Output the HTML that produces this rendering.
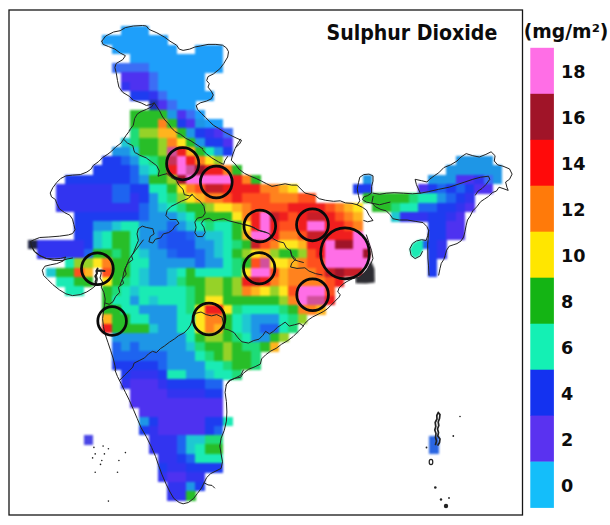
<!DOCTYPE html>
<html><head><meta charset="utf-8"><title>Sulphur Dioxide</title>
<style>
html,body{margin:0;padding:0;background:#fff}
body{width:610px;height:525px;overflow:hidden}
svg{display:block}
text{font-family:"DejaVu Sans","Liberation Sans",sans-serif;font-weight:bold;fill:#0c0c0c}
</style></head><body>
<svg width="610" height="525" viewBox="0 0 610 525">
<defs><filter id="bl" color-interpolation-filters="sRGB" x="-2%" y="-2%" width="104%" height="104%"><feGaussianBlur stdDeviation="0.8"/></filter></defs>
<rect width="610" height="525" fill="#fff"/>
<g filter="url(#bl)" shape-rendering="crispEdges">
<rect x="120.8" y="25.9" width="28.2" height="9.6" fill="#1e9ffa"/><rect x="102.2" y="35.2" width="65.4" height="9.6" fill="#1e9ffa"/><rect x="111.5" y="44.5" width="65.4" height="9.6" fill="#1e9ffa"/><rect x="195.2" y="44.5" width="28.2" height="9.6" fill="#1e9ffa"/><rect x="130.1" y="53.8" width="93.2" height="9.6" fill="#1e9ffa"/><rect x="111.5" y="63.1" width="37.5" height="9.6" fill="#3c6ef5"/><rect x="148.7" y="63.1" width="74.7" height="9.6" fill="#1e9ffa"/><rect x="120.8" y="72.4" width="28.2" height="9.6" fill="#4e32f0"/><rect x="148.7" y="72.4" width="9.6" height="9.6" fill="#3c6ef5"/><rect x="158" y="72.4" width="46.8" height="9.6" fill="#1e9ffa"/><rect x="120.8" y="81.7" width="9.6" height="9.6" fill="#3234f0"/><rect x="130.1" y="81.7" width="18.9" height="9.6" fill="#4e32f0"/><rect x="148.7" y="81.7" width="9.6" height="9.6" fill="#3c6ef5"/><rect x="158" y="81.7" width="46.8" height="9.6" fill="#1e9ffa"/><rect x="130.1" y="91" width="18.9" height="9.6" fill="#1e3cf0"/><rect x="148.7" y="91" width="9.6" height="9.6" fill="#3234f0"/><rect x="158" y="91" width="9.6" height="9.6" fill="#3c6ef5"/><rect x="167.3" y="91" width="46.8" height="9.6" fill="#1e9ffa"/><rect x="148.7" y="100.3" width="9.6" height="9.6" fill="#1e32b4"/><rect x="158" y="100.3" width="9.6" height="9.6" fill="#4e32f0"/><rect x="167.3" y="100.3" width="9.6" height="9.6" fill="#3c6ef5"/><rect x="176.6" y="100.3" width="18.9" height="9.6" fill="#1e9ffa"/><rect x="130.1" y="109.6" width="37.5" height="9.6" fill="#28be28"/><rect x="167.3" y="109.6" width="9.6" height="9.6" fill="#1e96e6"/><rect x="176.6" y="109.6" width="9.6" height="9.6" fill="#4e32f0"/><rect x="185.9" y="109.6" width="9.6" height="9.6" fill="#3c6ef5"/><rect x="195.2" y="109.6" width="9.6" height="9.6" fill="#1e9ffa"/><rect x="130.1" y="118.9" width="28.2" height="9.6" fill="#28be28"/><rect x="158" y="118.9" width="9.6" height="9.6" fill="#ff821e"/><rect x="167.3" y="118.9" width="9.6" height="9.6" fill="#28be28"/><rect x="176.6" y="118.9" width="9.6" height="9.6" fill="#1e3cf0"/><rect x="185.9" y="118.9" width="9.6" height="9.6" fill="#4e32f0"/><rect x="195.2" y="118.9" width="9.6" height="9.6" fill="#1e96e6"/><rect x="204.5" y="118.9" width="18.9" height="9.6" fill="#1e9ffa"/><rect x="130.1" y="128.2" width="9.6" height="9.6" fill="#1edc78"/><rect x="139.4" y="128.2" width="18.9" height="9.6" fill="#96d228"/><rect x="158" y="128.2" width="18.9" height="9.6" fill="#ffb41e"/><rect x="176.6" y="128.2" width="9.6" height="9.6" fill="#28be28"/><rect x="185.9" y="128.2" width="9.6" height="9.6" fill="#1e96e6"/><rect x="195.2" y="128.2" width="9.6" height="9.6" fill="#1e3cf0"/><rect x="204.5" y="128.2" width="9.6" height="9.6" fill="#3234f0"/><rect x="213.8" y="128.2" width="9.6" height="9.6" fill="#4e32f0"/><rect x="223.1" y="128.2" width="9.6" height="9.6" fill="#3c6ef5"/><rect x="120.8" y="137.5" width="9.6" height="9.6" fill="#1ec8d2"/><rect x="130.1" y="137.5" width="9.6" height="9.6" fill="#1edc78"/><rect x="139.4" y="137.5" width="18.9" height="9.6" fill="#28be28"/><rect x="158" y="137.5" width="9.6" height="9.6" fill="#96d228"/><rect x="167.3" y="137.5" width="9.6" height="9.6" fill="#ff821e"/><rect x="176.6" y="137.5" width="9.6" height="9.6" fill="#ffe61e"/><rect x="185.9" y="137.5" width="9.6" height="9.6" fill="#28be28"/><rect x="195.2" y="137.5" width="9.6" height="9.6" fill="#1e96e6"/><rect x="204.5" y="137.5" width="18.9" height="9.6" fill="#1e3cf0"/><rect x="223.1" y="137.5" width="9.6" height="9.6" fill="#4e32f0"/><rect x="111.5" y="146.8" width="18.9" height="9.6" fill="#1e96e6"/><rect x="130.1" y="146.8" width="9.6" height="9.6" fill="#1ec8d2"/><rect x="139.4" y="146.8" width="18.9" height="9.6" fill="#28be28"/><rect x="158" y="146.8" width="9.6" height="9.6" fill="#96d228"/><rect x="167.3" y="146.8" width="9.6" height="9.6" fill="#d2509b"/><rect x="176.6" y="146.8" width="9.6" height="9.6" fill="#f01e1e"/><rect x="185.9" y="146.8" width="9.6" height="9.6" fill="#ffb41e"/><rect x="195.2" y="146.8" width="9.6" height="9.6" fill="#28be28"/><rect x="204.5" y="146.8" width="9.6" height="9.6" fill="#1aebb4"/><rect x="213.8" y="146.8" width="9.6" height="9.6" fill="#1e96e6"/><rect x="223.1" y="146.8" width="9.6" height="9.6" fill="#1e3cf0"/><rect x="102.2" y="156.1" width="18.9" height="9.6" fill="#1e3cf0"/><rect x="120.8" y="156.1" width="9.6" height="9.6" fill="#1e64f0"/><rect x="130.1" y="156.1" width="9.6" height="9.6" fill="#1e96e6"/><rect x="139.4" y="156.1" width="9.6" height="9.6" fill="#1aebb4"/><rect x="148.7" y="156.1" width="9.6" height="9.6" fill="#1edc78"/><rect x="158" y="156.1" width="9.6" height="9.6" fill="#28be28"/><rect x="167.3" y="156.1" width="9.6" height="9.6" fill="#c8325a"/><rect x="176.6" y="156.1" width="9.6" height="9.6" fill="#ff6ee6"/><rect x="185.9" y="156.1" width="9.6" height="9.6" fill="#f01e1e"/><rect x="195.2" y="156.1" width="9.6" height="9.6" fill="#ff821e"/><rect x="204.5" y="156.1" width="9.6" height="9.6" fill="#ffe61e"/><rect x="213.8" y="156.1" width="9.6" height="9.6" fill="#96d228"/><rect x="455.6" y="156.1" width="37.5" height="9.6" fill="#1e96e6"/><rect x="92.9" y="165.4" width="37.5" height="9.6" fill="#1e3cf0"/><rect x="130.1" y="165.4" width="9.6" height="9.6" fill="#1e64f0"/><rect x="139.4" y="165.4" width="9.6" height="9.6" fill="#1ec8d2"/><rect x="148.7" y="165.4" width="9.6" height="9.6" fill="#1aebb4"/><rect x="158" y="165.4" width="9.6" height="9.6" fill="#28be28"/><rect x="167.3" y="165.4" width="9.6" height="9.6" fill="#f01e1e"/><rect x="176.6" y="165.4" width="9.6" height="9.6" fill="#ff6ee6"/><rect x="185.9" y="165.4" width="9.6" height="9.6" fill="#d2509b"/><rect x="195.2" y="165.4" width="9.6" height="9.6" fill="#a01428"/><rect x="204.5" y="165.4" width="18.9" height="9.6" fill="#f01e1e"/><rect x="223.1" y="165.4" width="9.6" height="9.6" fill="#ff821e"/><rect x="232.4" y="165.4" width="9.6" height="9.6" fill="#28be28"/><rect x="446.3" y="165.4" width="56.1" height="9.6" fill="#1e96e6"/><rect x="65" y="174.7" width="65.4" height="9.6" fill="#1e3cf0"/><rect x="130.1" y="174.7" width="9.6" height="9.6" fill="#1e64f0"/><rect x="139.4" y="174.7" width="9.6" height="9.6" fill="#1e96e6"/><rect x="148.7" y="174.7" width="18.9" height="9.6" fill="#28be28"/><rect x="167.3" y="174.7" width="9.6" height="9.6" fill="#96d228"/><rect x="176.6" y="174.7" width="9.6" height="9.6" fill="#a01428"/><rect x="185.9" y="174.7" width="46.8" height="9.6" fill="#ff6ee6"/><rect x="232.4" y="174.7" width="9.6" height="9.6" fill="#f01e1e"/><rect x="241.7" y="174.7" width="9.6" height="9.6" fill="#ff821e"/><rect x="251" y="174.7" width="9.6" height="9.6" fill="#28be28"/><rect x="362.6" y="174.7" width="9.6" height="9.6" fill="#1e96e6"/><rect x="427.7" y="174.7" width="28.2" height="9.6" fill="#1e96e6"/><rect x="455.6" y="174.7" width="18.9" height="9.6" fill="#4e32f0"/><rect x="474.2" y="174.7" width="9.6" height="9.6" fill="#3234f0"/><rect x="483.5" y="174.7" width="9.6" height="9.6" fill="#3c6ef5"/><rect x="492.8" y="174.7" width="9.6" height="9.6" fill="#1e96e6"/><rect x="55.7" y="184" width="56.1" height="9.6" fill="#3234f0"/><rect x="111.5" y="184" width="18.9" height="9.6" fill="#1e64f0"/><rect x="130.1" y="184" width="18.9" height="9.6" fill="#1e3cf0"/><rect x="148.7" y="184" width="18.9" height="9.6" fill="#1aebb4"/><rect x="167.3" y="184" width="9.6" height="9.6" fill="#28be28"/><rect x="176.6" y="184" width="9.6" height="9.6" fill="#ffe61e"/><rect x="185.9" y="184" width="9.6" height="9.6" fill="#ff821e"/><rect x="195.2" y="184" width="9.6" height="9.6" fill="#ff501e"/><rect x="204.5" y="184" width="18.9" height="9.6" fill="#c81e28"/><rect x="223.1" y="184" width="37.5" height="9.6" fill="#f01e1e"/><rect x="260.3" y="184" width="18.9" height="9.6" fill="#ff821e"/><rect x="278.9" y="184" width="9.6" height="9.6" fill="#ffb41e"/><rect x="288.2" y="184" width="9.6" height="9.6" fill="#ffe61e"/><rect x="353.3" y="184" width="18.9" height="9.6" fill="#1e3cf0"/><rect x="418.4" y="184" width="9.6" height="9.6" fill="#4e32f0"/><rect x="427.7" y="184" width="9.6" height="9.6" fill="#1e3cf0"/><rect x="437" y="184" width="9.6" height="9.6" fill="#1e64f0"/><rect x="446.3" y="184" width="9.6" height="9.6" fill="#1e3cf0"/><rect x="455.6" y="184" width="9.6" height="9.6" fill="#1e64f0"/><rect x="464.9" y="184" width="9.6" height="9.6" fill="#1e3cf0"/><rect x="474.2" y="184" width="18.9" height="9.6" fill="#4e32f0"/><rect x="55.7" y="193.3" width="56.1" height="9.6" fill="#3234f0"/><rect x="111.5" y="193.3" width="18.9" height="9.6" fill="#1e64f0"/><rect x="130.1" y="193.3" width="9.6" height="9.6" fill="#3234f0"/><rect x="139.4" y="193.3" width="9.6" height="9.6" fill="#1e3cf0"/><rect x="148.7" y="193.3" width="9.6" height="9.6" fill="#1e96e6"/><rect x="158" y="193.3" width="9.6" height="9.6" fill="#1aebb4"/><rect x="167.3" y="193.3" width="9.6" height="9.6" fill="#1edc78"/><rect x="176.6" y="193.3" width="9.6" height="9.6" fill="#96d228"/><rect x="185.9" y="193.3" width="9.6" height="9.6" fill="#ffe61e"/><rect x="195.2" y="193.3" width="9.6" height="9.6" fill="#ffb41e"/><rect x="204.5" y="193.3" width="18.9" height="9.6" fill="#ff821e"/><rect x="223.1" y="193.3" width="9.6" height="9.6" fill="#ff501e"/><rect x="232.4" y="193.3" width="9.6" height="9.6" fill="#f01e1e"/><rect x="241.7" y="193.3" width="28.2" height="9.6" fill="#ff501e"/><rect x="269.6" y="193.3" width="28.2" height="9.6" fill="#ff821e"/><rect x="297.5" y="193.3" width="18.9" height="9.6" fill="#ff501e"/><rect x="362.6" y="193.3" width="46.8" height="9.6" fill="#28be28"/><rect x="409.1" y="193.3" width="9.6" height="9.6" fill="#1edc78"/><rect x="418.4" y="193.3" width="18.9" height="9.6" fill="#1aebb4"/><rect x="437" y="193.3" width="9.6" height="9.6" fill="#1e96e6"/><rect x="446.3" y="193.3" width="9.6" height="9.6" fill="#1e64f0"/><rect x="455.6" y="193.3" width="9.6" height="9.6" fill="#1e3cf0"/><rect x="464.9" y="193.3" width="9.6" height="9.6" fill="#3234f0"/><rect x="55.7" y="202.6" width="84" height="9.6" fill="#3234f0"/><rect x="139.4" y="202.6" width="9.6" height="9.6" fill="#1e64f0"/><rect x="148.7" y="202.6" width="9.6" height="9.6" fill="#1e96e6"/><rect x="158" y="202.6" width="9.6" height="9.6" fill="#1ec8d2"/><rect x="167.3" y="202.6" width="9.6" height="9.6" fill="#1aebb4"/><rect x="176.6" y="202.6" width="9.6" height="9.6" fill="#1edc78"/><rect x="185.9" y="202.6" width="18.9" height="9.6" fill="#28be28"/><rect x="204.5" y="202.6" width="9.6" height="9.6" fill="#96d228"/><rect x="213.8" y="202.6" width="18.9" height="9.6" fill="#ffe61e"/><rect x="232.4" y="202.6" width="9.6" height="9.6" fill="#ffb41e"/><rect x="241.7" y="202.6" width="9.6" height="9.6" fill="#ff821e"/><rect x="251" y="202.6" width="37.5" height="9.6" fill="#ff501e"/><rect x="288.2" y="202.6" width="37.5" height="9.6" fill="#f01e1e"/><rect x="325.4" y="202.6" width="9.6" height="9.6" fill="#ff501e"/><rect x="334.7" y="202.6" width="9.6" height="9.6" fill="#ff821e"/><rect x="344" y="202.6" width="9.6" height="9.6" fill="#ffb41e"/><rect x="353.3" y="202.6" width="9.6" height="9.6" fill="#ffe61e"/><rect x="371.9" y="202.6" width="18.9" height="9.6" fill="#28be28"/><rect x="390.5" y="202.6" width="9.6" height="9.6" fill="#1edc78"/><rect x="399.8" y="202.6" width="18.9" height="9.6" fill="#1aebb4"/><rect x="418.4" y="202.6" width="18.9" height="9.6" fill="#1e64f0"/><rect x="437" y="202.6" width="18.9" height="9.6" fill="#1e3cf0"/><rect x="455.6" y="202.6" width="9.6" height="9.6" fill="#3234f0"/><rect x="464.9" y="202.6" width="9.6" height="9.6" fill="#4e32f0"/><rect x="74.3" y="211.9" width="65.4" height="9.6" fill="#1e3cf0"/><rect x="139.4" y="211.9" width="9.6" height="9.6" fill="#1e64f0"/><rect x="148.7" y="211.9" width="28.2" height="9.6" fill="#1e96e6"/><rect x="176.6" y="211.9" width="9.6" height="9.6" fill="#1ec8d2"/><rect x="185.9" y="211.9" width="9.6" height="9.6" fill="#1aebb4"/><rect x="195.2" y="211.9" width="37.5" height="9.6" fill="#28be28"/><rect x="232.4" y="211.9" width="9.6" height="9.6" fill="#ffe61e"/><rect x="241.7" y="211.9" width="9.6" height="9.6" fill="#ff821e"/><rect x="251" y="211.9" width="9.6" height="9.6" fill="#f01e1e"/><rect x="260.3" y="211.9" width="9.6" height="9.6" fill="#ff6ee6"/><rect x="269.6" y="211.9" width="9.6" height="9.6" fill="#c81e28"/><rect x="278.9" y="211.9" width="9.6" height="9.6" fill="#f01e1e"/><rect x="288.2" y="211.9" width="9.6" height="9.6" fill="#ff501e"/><rect x="297.5" y="211.9" width="9.6" height="9.6" fill="#f01e1e"/><rect x="306.8" y="211.9" width="18.9" height="9.6" fill="#c81e28"/><rect x="325.4" y="211.9" width="9.6" height="9.6" fill="#f01e1e"/><rect x="334.7" y="211.9" width="9.6" height="9.6" fill="#ff501e"/><rect x="344" y="211.9" width="9.6" height="9.6" fill="#ff821e"/><rect x="353.3" y="211.9" width="9.6" height="9.6" fill="#ffb41e"/><rect x="390.5" y="211.9" width="9.6" height="9.6" fill="#1ec8d2"/><rect x="399.8" y="211.9" width="28.2" height="9.6" fill="#3234f0"/><rect x="427.7" y="211.9" width="18.9" height="9.6" fill="#1e3cf0"/><rect x="446.3" y="211.9" width="9.6" height="9.6" fill="#3234f0"/><rect x="455.6" y="211.9" width="9.6" height="9.6" fill="#4e32f0"/><rect x="74.3" y="221.2" width="18.9" height="9.6" fill="#1e3cf0"/><rect x="92.9" y="221.2" width="18.9" height="9.6" fill="#1e96e6"/><rect x="111.5" y="221.2" width="9.6" height="9.6" fill="#1ec8d2"/><rect x="120.8" y="221.2" width="18.9" height="9.6" fill="#1aebb4"/><rect x="139.4" y="221.2" width="28.2" height="9.6" fill="#1e96e6"/><rect x="167.3" y="221.2" width="9.6" height="9.6" fill="#1e64f0"/><rect x="176.6" y="221.2" width="9.6" height="9.6" fill="#1e96e6"/><rect x="185.9" y="221.2" width="9.6" height="9.6" fill="#1ec8d2"/><rect x="195.2" y="221.2" width="9.6" height="9.6" fill="#1aebb4"/><rect x="204.5" y="221.2" width="9.6" height="9.6" fill="#1edc78"/><rect x="213.8" y="221.2" width="18.9" height="9.6" fill="#1aebb4"/><rect x="232.4" y="221.2" width="9.6" height="9.6" fill="#28be28"/><rect x="241.7" y="221.2" width="9.6" height="9.6" fill="#ffe61e"/><rect x="251" y="221.2" width="9.6" height="9.6" fill="#f01e1e"/><rect x="260.3" y="221.2" width="9.6" height="9.6" fill="#ff6ee6"/><rect x="269.6" y="221.2" width="9.6" height="9.6" fill="#f01e1e"/><rect x="278.9" y="221.2" width="18.9" height="9.6" fill="#ff501e"/><rect x="297.5" y="221.2" width="9.6" height="9.6" fill="#f01e1e"/><rect x="306.8" y="221.2" width="18.9" height="9.6" fill="#ff6ee6"/><rect x="325.4" y="221.2" width="18.9" height="9.6" fill="#f01e1e"/><rect x="344" y="221.2" width="9.6" height="9.6" fill="#ff501e"/><rect x="353.3" y="221.2" width="9.6" height="9.6" fill="#ff821e"/><rect x="427.7" y="221.2" width="18.9" height="9.6" fill="#1e3cf0"/><rect x="446.3" y="221.2" width="18.9" height="9.6" fill="#4e32f0"/><rect x="74.3" y="230.5" width="18.9" height="9.6" fill="#1e3cf0"/><rect x="92.9" y="230.5" width="9.6" height="9.6" fill="#1ec8d2"/><rect x="102.2" y="230.5" width="9.6" height="9.6" fill="#1aebb4"/><rect x="111.5" y="230.5" width="18.9" height="9.6" fill="#28be28"/><rect x="130.1" y="230.5" width="9.6" height="9.6" fill="#1aebb4"/><rect x="139.4" y="230.5" width="18.9" height="9.6" fill="#1e96e6"/><rect x="158" y="230.5" width="9.6" height="9.6" fill="#1e64f0"/><rect x="167.3" y="230.5" width="18.9" height="9.6" fill="#1e50f0"/><rect x="185.9" y="230.5" width="9.6" height="9.6" fill="#1e64f0"/><rect x="195.2" y="230.5" width="9.6" height="9.6" fill="#1e96e6"/><rect x="204.5" y="230.5" width="18.9" height="9.6" fill="#1ec8d2"/><rect x="223.1" y="230.5" width="9.6" height="9.6" fill="#1aebb4"/><rect x="232.4" y="230.5" width="9.6" height="9.6" fill="#28be28"/><rect x="241.7" y="230.5" width="9.6" height="9.6" fill="#ffb41e"/><rect x="251" y="230.5" width="18.9" height="9.6" fill="#ff6ee6"/><rect x="269.6" y="230.5" width="9.6" height="9.6" fill="#f01e1e"/><rect x="278.9" y="230.5" width="18.9" height="9.6" fill="#ff821e"/><rect x="297.5" y="230.5" width="9.6" height="9.6" fill="#ff501e"/><rect x="306.8" y="230.5" width="18.9" height="9.6" fill="#c81e28"/><rect x="325.4" y="230.5" width="28.2" height="9.6" fill="#f01e1e"/><rect x="353.3" y="230.5" width="9.6" height="9.6" fill="#ff6ee6"/><rect x="427.7" y="230.5" width="18.9" height="9.6" fill="#1e3cf0"/><rect x="446.3" y="230.5" width="18.9" height="9.6" fill="#4e32f0"/><rect x="27.8" y="239.8" width="9.6" height="9.6" fill="#1e2340"/><rect x="37.1" y="239.8" width="46.8" height="9.6" fill="#3234f0"/><rect x="83.6" y="239.8" width="9.6" height="9.6" fill="#1e3cf0"/><rect x="92.9" y="239.8" width="9.6" height="9.6" fill="#1ec8d2"/><rect x="102.2" y="239.8" width="9.6" height="9.6" fill="#1aebb4"/><rect x="111.5" y="239.8" width="18.9" height="9.6" fill="#28be28"/><rect x="130.1" y="239.8" width="9.6" height="9.6" fill="#1aebb4"/><rect x="139.4" y="239.8" width="18.9" height="9.6" fill="#1e96e6"/><rect x="158" y="239.8" width="9.6" height="9.6" fill="#1e64f0"/><rect x="167.3" y="239.8" width="28.2" height="9.6" fill="#1e50f0"/><rect x="195.2" y="239.8" width="18.9" height="9.6" fill="#1e96e6"/><rect x="213.8" y="239.8" width="9.6" height="9.6" fill="#1ec8d2"/><rect x="223.1" y="239.8" width="9.6" height="9.6" fill="#1aebb4"/><rect x="232.4" y="239.8" width="9.6" height="9.6" fill="#1edc78"/><rect x="241.7" y="239.8" width="9.6" height="9.6" fill="#28be28"/><rect x="251" y="239.8" width="9.6" height="9.6" fill="#c81e28"/><rect x="260.3" y="239.8" width="9.6" height="9.6" fill="#ff501e"/><rect x="269.6" y="239.8" width="9.6" height="9.6" fill="#ff821e"/><rect x="278.9" y="239.8" width="18.9" height="9.6" fill="#ffe61e"/><rect x="297.5" y="239.8" width="9.6" height="9.6" fill="#ffb41e"/><rect x="306.8" y="239.8" width="18.9" height="9.6" fill="#f01e1e"/><rect x="325.4" y="239.8" width="9.6" height="9.6" fill="#ff6ee6"/><rect x="334.7" y="239.8" width="18.9" height="9.6" fill="#a01428"/><rect x="353.3" y="239.8" width="9.6" height="9.6" fill="#ff6ee6"/><rect x="418.4" y="239.8" width="9.6" height="9.6" fill="#1e64f0"/><rect x="427.7" y="239.8" width="9.6" height="9.6" fill="#1e3cf0"/><rect x="437" y="239.8" width="9.6" height="9.6" fill="#3234f0"/><rect x="37.1" y="249.1" width="46.8" height="9.6" fill="#3234f0"/><rect x="83.6" y="249.1" width="9.6" height="9.6" fill="#1e64f0"/><rect x="92.9" y="249.1" width="18.9" height="9.6" fill="#28be28"/><rect x="111.5" y="249.1" width="9.6" height="9.6" fill="#1edc78"/><rect x="120.8" y="249.1" width="9.6" height="9.6" fill="#28be28"/><rect x="130.1" y="249.1" width="9.6" height="9.6" fill="#1aebb4"/><rect x="139.4" y="249.1" width="9.6" height="9.6" fill="#1ec8d2"/><rect x="148.7" y="249.1" width="18.9" height="9.6" fill="#1e96e6"/><rect x="167.3" y="249.1" width="9.6" height="9.6" fill="#1e64f0"/><rect x="176.6" y="249.1" width="18.9" height="9.6" fill="#1e50f0"/><rect x="195.2" y="249.1" width="9.6" height="9.6" fill="#1e64f0"/><rect x="204.5" y="249.1" width="9.6" height="9.6" fill="#1e96e6"/><rect x="213.8" y="249.1" width="9.6" height="9.6" fill="#1ec8d2"/><rect x="223.1" y="249.1" width="9.6" height="9.6" fill="#1aebb4"/><rect x="232.4" y="249.1" width="9.6" height="9.6" fill="#28be28"/><rect x="241.7" y="249.1" width="9.6" height="9.6" fill="#96d228"/><rect x="251" y="249.1" width="9.6" height="9.6" fill="#ffe61e"/><rect x="260.3" y="249.1" width="9.6" height="9.6" fill="#ffb41e"/><rect x="269.6" y="249.1" width="9.6" height="9.6" fill="#96d228"/><rect x="278.9" y="249.1" width="18.9" height="9.6" fill="#28be28"/><rect x="297.5" y="249.1" width="9.6" height="9.6" fill="#96d228"/><rect x="306.8" y="249.1" width="9.6" height="9.6" fill="#ff501e"/><rect x="316.1" y="249.1" width="9.6" height="9.6" fill="#f01e1e"/><rect x="325.4" y="249.1" width="37.5" height="9.6" fill="#ff6ee6"/><rect x="427.7" y="249.1" width="9.6" height="9.6" fill="#1e3cf0"/><rect x="437" y="249.1" width="9.6" height="9.6" fill="#3234f0"/><rect x="65" y="258.4" width="9.6" height="9.6" fill="#1aebb4"/><rect x="74.3" y="258.4" width="18.9" height="9.6" fill="#96d228"/><rect x="92.9" y="258.4" width="9.6" height="9.6" fill="#ffe61e"/><rect x="102.2" y="258.4" width="9.6" height="9.6" fill="#ff821e"/><rect x="111.5" y="258.4" width="18.9" height="9.6" fill="#28be28"/><rect x="130.1" y="258.4" width="18.9" height="9.6" fill="#1aebb4"/><rect x="148.7" y="258.4" width="46.8" height="9.6" fill="#1e96e6"/><rect x="195.2" y="258.4" width="9.6" height="9.6" fill="#1e64f0"/><rect x="204.5" y="258.4" width="18.9" height="9.6" fill="#1e96e6"/><rect x="223.1" y="258.4" width="9.6" height="9.6" fill="#1aebb4"/><rect x="232.4" y="258.4" width="9.6" height="9.6" fill="#1edc78"/><rect x="241.7" y="258.4" width="9.6" height="9.6" fill="#28be28"/><rect x="251" y="258.4" width="9.6" height="9.6" fill="#ff501e"/><rect x="260.3" y="258.4" width="9.6" height="9.6" fill="#d2509b"/><rect x="269.6" y="258.4" width="18.9" height="9.6" fill="#ffe61e"/><rect x="288.2" y="258.4" width="9.6" height="9.6" fill="#ffb41e"/><rect x="297.5" y="258.4" width="9.6" height="9.6" fill="#ff821e"/><rect x="306.8" y="258.4" width="18.9" height="9.6" fill="#ff501e"/><rect x="325.4" y="258.4" width="37.5" height="9.6" fill="#ff6ee6"/><rect x="427.7" y="258.4" width="9.6" height="9.6" fill="#1e3cf0"/><rect x="46.4" y="267.7" width="9.6" height="9.6" fill="#1ec8d2"/><rect x="55.7" y="267.7" width="18.9" height="9.6" fill="#28be28"/><rect x="74.3" y="267.7" width="9.6" height="9.6" fill="#ff501e"/><rect x="83.6" y="267.7" width="9.6" height="9.6" fill="#ffb41e"/><rect x="102.2" y="267.7" width="9.6" height="9.6" fill="#ff501e"/><rect x="111.5" y="267.7" width="18.9" height="9.6" fill="#28be28"/><rect x="130.1" y="267.7" width="9.6" height="9.6" fill="#1aebb4"/><rect x="139.4" y="267.7" width="9.6" height="9.6" fill="#1ec8d2"/><rect x="148.7" y="267.7" width="18.9" height="9.6" fill="#1e96e6"/><rect x="167.3" y="267.7" width="9.6" height="9.6" fill="#1ec8d2"/><rect x="176.6" y="267.7" width="9.6" height="9.6" fill="#1aebb4"/><rect x="185.9" y="267.7" width="9.6" height="9.6" fill="#28be28"/><rect x="195.2" y="267.7" width="37.5" height="9.6" fill="#1aebb4"/><rect x="232.4" y="267.7" width="9.6" height="9.6" fill="#1edc78"/><rect x="241.7" y="267.7" width="9.6" height="9.6" fill="#ffe61e"/><rect x="251" y="267.7" width="18.9" height="9.6" fill="#ff6ee6"/><rect x="269.6" y="267.7" width="9.6" height="9.6" fill="#ff501e"/><rect x="278.9" y="267.7" width="9.6" height="9.6" fill="#ffb41e"/><rect x="288.2" y="267.7" width="28.2" height="9.6" fill="#ff821e"/><rect x="316.1" y="267.7" width="9.6" height="9.6" fill="#ff501e"/><rect x="325.4" y="267.7" width="9.6" height="9.6" fill="#c81e28"/><rect x="334.7" y="267.7" width="9.6" height="9.6" fill="#a01428"/><rect x="344" y="267.7" width="18.9" height="9.6" fill="#c81e28"/><rect x="427.7" y="267.7" width="9.6" height="9.6" fill="#1e3cf0"/><rect x="55.7" y="277" width="18.9" height="9.6" fill="#1aebb4"/><rect x="74.3" y="277" width="18.9" height="9.6" fill="#28be28"/><rect x="102.2" y="277" width="9.6" height="9.6" fill="#ffe61e"/><rect x="111.5" y="277" width="9.6" height="9.6" fill="#28be28"/><rect x="120.8" y="277" width="9.6" height="9.6" fill="#1edc78"/><rect x="130.1" y="277" width="9.6" height="9.6" fill="#1aebb4"/><rect x="139.4" y="277" width="9.6" height="9.6" fill="#1ec8d2"/><rect x="148.7" y="277" width="18.9" height="9.6" fill="#1e96e6"/><rect x="167.3" y="277" width="9.6" height="9.6" fill="#1ec8d2"/><rect x="176.6" y="277" width="9.6" height="9.6" fill="#1edc78"/><rect x="185.9" y="277" width="18.9" height="9.6" fill="#28be28"/><rect x="204.5" y="277" width="18.9" height="9.6" fill="#96d228"/><rect x="223.1" y="277" width="9.6" height="9.6" fill="#28be28"/><rect x="232.4" y="277" width="9.6" height="9.6" fill="#96d228"/><rect x="241.7" y="277" width="9.6" height="9.6" fill="#f01e1e"/><rect x="251" y="277" width="9.6" height="9.6" fill="#c81e28"/><rect x="260.3" y="277" width="9.6" height="9.6" fill="#f01e1e"/><rect x="269.6" y="277" width="9.6" height="9.6" fill="#ff821e"/><rect x="278.9" y="277" width="9.6" height="9.6" fill="#ffb41e"/><rect x="288.2" y="277" width="37.5" height="9.6" fill="#ff821e"/><rect x="325.4" y="277" width="9.6" height="9.6" fill="#ff501e"/><rect x="334.7" y="277" width="9.6" height="9.6" fill="#f01e1e"/><rect x="65" y="286.3" width="18.9" height="9.6" fill="#1aebb4"/><rect x="102.2" y="286.3" width="9.6" height="9.6" fill="#28be28"/><rect x="111.5" y="286.3" width="9.6" height="9.6" fill="#1edc78"/><rect x="120.8" y="286.3" width="9.6" height="9.6" fill="#1aebb4"/><rect x="130.1" y="286.3" width="9.6" height="9.6" fill="#1ec8d2"/><rect x="139.4" y="286.3" width="46.8" height="9.6" fill="#1aebb4"/><rect x="185.9" y="286.3" width="9.6" height="9.6" fill="#1edc78"/><rect x="195.2" y="286.3" width="9.6" height="9.6" fill="#28be28"/><rect x="204.5" y="286.3" width="18.9" height="9.6" fill="#96d228"/><rect x="223.1" y="286.3" width="9.6" height="9.6" fill="#28be28"/><rect x="232.4" y="286.3" width="9.6" height="9.6" fill="#96d228"/><rect x="241.7" y="286.3" width="9.6" height="9.6" fill="#ff821e"/><rect x="251" y="286.3" width="9.6" height="9.6" fill="#ffb41e"/><rect x="260.3" y="286.3" width="9.6" height="9.6" fill="#ffe61e"/><rect x="269.6" y="286.3" width="9.6" height="9.6" fill="#96d228"/><rect x="278.9" y="286.3" width="9.6" height="9.6" fill="#ffe61e"/><rect x="288.2" y="286.3" width="9.6" height="9.6" fill="#ff501e"/><rect x="297.5" y="286.3" width="28.2" height="9.6" fill="#ff6ee6"/><rect x="325.4" y="286.3" width="9.6" height="9.6" fill="#ff501e"/><rect x="102.2" y="295.6" width="9.6" height="9.6" fill="#28be28"/><rect x="111.5" y="295.6" width="18.9" height="9.6" fill="#1aebb4"/><rect x="130.1" y="295.6" width="9.6" height="9.6" fill="#1e96e6"/><rect x="139.4" y="295.6" width="9.6" height="9.6" fill="#1aebb4"/><rect x="148.7" y="295.6" width="9.6" height="9.6" fill="#1ec8d2"/><rect x="158" y="295.6" width="28.2" height="9.6" fill="#1aebb4"/><rect x="185.9" y="295.6" width="9.6" height="9.6" fill="#1edc78"/><rect x="195.2" y="295.6" width="9.6" height="9.6" fill="#28be28"/><rect x="204.5" y="295.6" width="18.9" height="9.6" fill="#ffe61e"/><rect x="223.1" y="295.6" width="56.1" height="9.6" fill="#28be28"/><rect x="278.9" y="295.6" width="9.6" height="9.6" fill="#96d228"/><rect x="288.2" y="295.6" width="9.6" height="9.6" fill="#ff821e"/><rect x="297.5" y="295.6" width="9.6" height="9.6" fill="#ff6ee6"/><rect x="306.8" y="295.6" width="18.9" height="9.6" fill="#d2509b"/><rect x="325.4" y="295.6" width="9.6" height="9.6" fill="#f01e1e"/><rect x="102.2" y="304.9" width="18.9" height="9.6" fill="#28be28"/><rect x="120.8" y="304.9" width="18.9" height="9.6" fill="#1aebb4"/><rect x="139.4" y="304.9" width="37.5" height="9.6" fill="#1e96e6"/><rect x="176.6" y="304.9" width="9.6" height="9.6" fill="#1aebb4"/><rect x="185.9" y="304.9" width="9.6" height="9.6" fill="#1edc78"/><rect x="195.2" y="304.9" width="9.6" height="9.6" fill="#ffe61e"/><rect x="204.5" y="304.9" width="18.9" height="9.6" fill="#f01e1e"/><rect x="223.1" y="304.9" width="9.6" height="9.6" fill="#ffe61e"/><rect x="232.4" y="304.9" width="9.6" height="9.6" fill="#1edc78"/><rect x="241.7" y="304.9" width="37.5" height="9.6" fill="#1aebb4"/><rect x="278.9" y="304.9" width="9.6" height="9.6" fill="#1edc78"/><rect x="288.2" y="304.9" width="9.6" height="9.6" fill="#28be28"/><rect x="297.5" y="304.9" width="18.9" height="9.6" fill="#ff821e"/><rect x="316.1" y="304.9" width="9.6" height="9.6" fill="#ffb41e"/><rect x="102.2" y="314.2" width="9.6" height="9.6" fill="#ffb41e"/><rect x="111.5" y="314.2" width="18.9" height="9.6" fill="#28be28"/><rect x="130.1" y="314.2" width="18.9" height="9.6" fill="#1aebb4"/><rect x="148.7" y="314.2" width="28.2" height="9.6" fill="#1e96e6"/><rect x="176.6" y="314.2" width="18.9" height="9.6" fill="#1aebb4"/><rect x="195.2" y="314.2" width="9.6" height="9.6" fill="#ffe61e"/><rect x="204.5" y="314.2" width="18.9" height="9.6" fill="#ff821e"/><rect x="223.1" y="314.2" width="9.6" height="9.6" fill="#28be28"/><rect x="232.4" y="314.2" width="9.6" height="9.6" fill="#1aebb4"/><rect x="241.7" y="314.2" width="9.6" height="9.6" fill="#1ec8d2"/><rect x="251" y="314.2" width="28.2" height="9.6" fill="#1e96e6"/><rect x="278.9" y="314.2" width="9.6" height="9.6" fill="#1aebb4"/><rect x="288.2" y="314.2" width="9.6" height="9.6" fill="#1edc78"/><rect x="297.5" y="314.2" width="9.6" height="9.6" fill="#96d228"/><rect x="102.2" y="323.5" width="9.6" height="9.6" fill="#f01e1e"/><rect x="111.5" y="323.5" width="37.5" height="9.6" fill="#28be28"/><rect x="148.7" y="323.5" width="9.6" height="9.6" fill="#1ec8d2"/><rect x="158" y="323.5" width="18.9" height="9.6" fill="#1e96e6"/><rect x="176.6" y="323.5" width="18.9" height="9.6" fill="#1aebb4"/><rect x="195.2" y="323.5" width="9.6" height="9.6" fill="#ffe61e"/><rect x="204.5" y="323.5" width="9.6" height="9.6" fill="#ff821e"/><rect x="213.8" y="323.5" width="9.6" height="9.6" fill="#ffb41e"/><rect x="223.1" y="323.5" width="9.6" height="9.6" fill="#28be28"/><rect x="232.4" y="323.5" width="9.6" height="9.6" fill="#1aebb4"/><rect x="241.7" y="323.5" width="9.6" height="9.6" fill="#1ec8d2"/><rect x="251" y="323.5" width="9.6" height="9.6" fill="#1e96e6"/><rect x="260.3" y="323.5" width="18.9" height="9.6" fill="#1e64f0"/><rect x="278.9" y="323.5" width="9.6" height="9.6" fill="#1aebb4"/><rect x="288.2" y="323.5" width="9.6" height="9.6" fill="#1edc78"/><rect x="111.5" y="332.8" width="74.7" height="9.6" fill="#1e96e6"/><rect x="185.9" y="332.8" width="9.6" height="9.6" fill="#1aebb4"/><rect x="195.2" y="332.8" width="9.6" height="9.6" fill="#28be28"/><rect x="204.5" y="332.8" width="18.9" height="9.6" fill="#96d228"/><rect x="223.1" y="332.8" width="9.6" height="9.6" fill="#28be28"/><rect x="232.4" y="332.8" width="9.6" height="9.6" fill="#1edc78"/><rect x="241.7" y="332.8" width="9.6" height="9.6" fill="#1aebb4"/><rect x="251" y="332.8" width="18.9" height="9.6" fill="#1e96e6"/><rect x="269.6" y="332.8" width="9.6" height="9.6" fill="#28be28"/><rect x="278.9" y="332.8" width="9.6" height="9.6" fill="#96d228"/><rect x="111.5" y="342.1" width="9.6" height="9.6" fill="#1e64f0"/><rect x="120.8" y="342.1" width="9.6" height="9.6" fill="#1e96e6"/><rect x="130.1" y="342.1" width="9.6" height="9.6" fill="#1e64f0"/><rect x="139.4" y="342.1" width="46.8" height="9.6" fill="#1e96e6"/><rect x="185.9" y="342.1" width="9.6" height="9.6" fill="#1ec8d2"/><rect x="195.2" y="342.1" width="9.6" height="9.6" fill="#1edc78"/><rect x="204.5" y="342.1" width="18.9" height="9.6" fill="#28be28"/><rect x="223.1" y="342.1" width="9.6" height="9.6" fill="#96d228"/><rect x="232.4" y="342.1" width="9.6" height="9.6" fill="#28be28"/><rect x="241.7" y="342.1" width="18.9" height="9.6" fill="#1edc78"/><rect x="260.3" y="342.1" width="9.6" height="9.6" fill="#28be28"/><rect x="269.6" y="342.1" width="9.6" height="9.6" fill="#ffb41e"/><rect x="111.5" y="351.4" width="56.1" height="9.6" fill="#1e64f0"/><rect x="167.3" y="351.4" width="28.2" height="9.6" fill="#1e96e6"/><rect x="195.2" y="351.4" width="9.6" height="9.6" fill="#1aebb4"/><rect x="204.5" y="351.4" width="9.6" height="9.6" fill="#1edc78"/><rect x="213.8" y="351.4" width="9.6" height="9.6" fill="#28be28"/><rect x="223.1" y="351.4" width="9.6" height="9.6" fill="#96d228"/><rect x="232.4" y="351.4" width="18.9" height="9.6" fill="#28be28"/><rect x="251" y="351.4" width="9.6" height="9.6" fill="#1edc78"/><rect x="111.5" y="360.7" width="46.8" height="9.6" fill="#1e3cf0"/><rect x="158" y="360.7" width="9.6" height="9.6" fill="#1e64f0"/><rect x="167.3" y="360.7" width="37.5" height="9.6" fill="#1e96e6"/><rect x="204.5" y="360.7" width="18.9" height="9.6" fill="#1aebb4"/><rect x="223.1" y="360.7" width="9.6" height="9.6" fill="#1edc78"/><rect x="232.4" y="360.7" width="18.9" height="9.6" fill="#28be28"/><rect x="251" y="360.7" width="9.6" height="9.6" fill="#1edc78"/><rect x="120.8" y="370" width="9.6" height="9.6" fill="#1e3cf0"/><rect x="130.1" y="370" width="28.2" height="9.6" fill="#3234f0"/><rect x="158" y="370" width="9.6" height="9.6" fill="#1e3cf0"/><rect x="167.3" y="370" width="18.9" height="9.6" fill="#1aebb4"/><rect x="185.9" y="370" width="18.9" height="9.6" fill="#1e96e6"/><rect x="204.5" y="370" width="9.6" height="9.6" fill="#1ec8d2"/><rect x="213.8" y="370" width="18.9" height="9.6" fill="#1aebb4"/><rect x="232.4" y="370" width="9.6" height="9.6" fill="#1edc78"/><rect x="120.8" y="379.3" width="9.6" height="9.6" fill="#3234f0"/><rect x="130.1" y="379.3" width="28.2" height="9.6" fill="#4e32f0"/><rect x="158" y="379.3" width="9.6" height="9.6" fill="#3234f0"/><rect x="167.3" y="379.3" width="37.5" height="9.6" fill="#1e3cf0"/><rect x="204.5" y="379.3" width="18.9" height="9.6" fill="#1e64f0"/><rect x="130.1" y="388.6" width="37.5" height="9.6" fill="#4e32f0"/><rect x="167.3" y="388.6" width="37.5" height="9.6" fill="#3234f0"/><rect x="204.5" y="388.6" width="18.9" height="9.6" fill="#1e3cf0"/><rect x="130.1" y="397.9" width="93.2" height="9.6" fill="#4e32f0"/><rect x="139.4" y="407.2" width="84" height="9.6" fill="#4e32f0"/><rect x="139.4" y="416.5" width="9.6" height="9.6" fill="#1e96e6"/><rect x="148.7" y="416.5" width="9.6" height="9.6" fill="#1e3cf0"/><rect x="158" y="416.5" width="46.8" height="9.6" fill="#4e32f0"/><rect x="204.5" y="416.5" width="18.9" height="9.6" fill="#1e3cf0"/><rect x="223.1" y="416.5" width="9.6" height="9.6" fill="#1aebb4"/><rect x="139.4" y="425.8" width="9.6" height="9.6" fill="#1e3cf0"/><rect x="148.7" y="425.8" width="9.6" height="9.6" fill="#3234f0"/><rect x="158" y="425.8" width="46.8" height="9.6" fill="#4e32f0"/><rect x="204.5" y="425.8" width="9.6" height="9.6" fill="#1e3cf0"/><rect x="213.8" y="425.8" width="9.6" height="9.6" fill="#1e64f0"/><rect x="83.6" y="435.1" width="9.6" height="9.6" fill="#4a46e6"/><rect x="148.7" y="435.1" width="28.2" height="9.6" fill="#3234f0"/><rect x="176.6" y="435.1" width="9.6" height="9.6" fill="#1e64f0"/><rect x="185.9" y="435.1" width="18.9" height="9.6" fill="#1ec8d2"/><rect x="204.5" y="435.1" width="18.9" height="9.6" fill="#1edc78"/><rect x="148.7" y="444.4" width="28.2" height="9.6" fill="#3234f0"/><rect x="176.6" y="444.4" width="9.6" height="9.6" fill="#1e64f0"/><rect x="185.9" y="444.4" width="9.6" height="9.6" fill="#1ec8d2"/><rect x="195.2" y="444.4" width="9.6" height="9.6" fill="#1aebb4"/><rect x="204.5" y="444.4" width="18.9" height="9.6" fill="#28be28"/><rect x="158" y="453.7" width="18.9" height="9.6" fill="#3234f0"/><rect x="176.6" y="453.7" width="9.6" height="9.6" fill="#1e3cf0"/><rect x="185.9" y="453.7" width="9.6" height="9.6" fill="#1e64f0"/><rect x="195.2" y="453.7" width="28.2" height="9.6" fill="#1aebb4"/><rect x="158" y="463" width="9.6" height="9.6" fill="#1e3cf0"/><rect x="167.3" y="463" width="18.9" height="9.6" fill="#3234f0"/><rect x="185.9" y="463" width="37.5" height="9.6" fill="#1e3cf0"/><rect x="158" y="472.3" width="9.6" height="9.6" fill="#3234f0"/><rect x="167.3" y="472.3" width="18.9" height="9.6" fill="#4e32f0"/><rect x="185.9" y="472.3" width="18.9" height="9.6" fill="#3234f0"/><rect x="167.3" y="481.6" width="18.9" height="9.6" fill="#3234f0"/><rect x="185.9" y="481.6" width="9.6" height="9.6" fill="#1e96e6"/><rect x="195.2" y="481.6" width="9.6" height="9.6" fill="#1e3cf0"/><rect x="167.3" y="490.9" width="18.9" height="9.6" fill="#3234f0"/><rect x="185.9" y="490.9" width="9.6" height="9.6" fill="#28be28"/>
<g clip-path="url(#cp36)"><rect x="362.6" y="230.5" width="9.6" height="9.6" fill="#ff6ee6"/><rect x="362.6" y="239.8" width="9.6" height="9.6" fill="#ff6ee6"/><rect x="362.6" y="249.1" width="9.6" height="9.6" fill="#a01428"/><rect x="362.6" y="258.4" width="9.6" height="9.6" fill="#ff6ee6"/></g>
<path d="M423.0 240.5 L421.6 239.7 L416.4 241.0 L412.5 243.6 L409.8 248.9 L411.1 255.4 L415.1 258.6 L420.3 255.9 L422.4 251.5 L423.2 246.2Z" fill="#1aebb4"/>
<rect x="429.3" y="435.6" width="9.4" height="18.6" fill="#2a66e2"/>
</g>
<clipPath id="cp36"><ellipse cx="345" cy="253.4" rx="25.6" ry="26.7"/></clipPath><clipPath id="cpn"><path clip-rule="evenodd" d="M340 250H390V300H340Z M371.5 253.4a26.5 27.5 0 1 0 -53 0a26.5 27.5 0 1 0 53 0Z"/></clipPath><g clip-path="url(#cpn)"><path d="M355.5 283.2 L355.5 272 L368 262 L372 263 L374.5 269 L374.8 282.5 L366 283.6Z" fill="#2c2c32" filter="url(#bl)"/></g>
<g fill="none" stroke="#222" stroke-width="1" stroke-linejoin="round" stroke-linecap="round">
<path d="M101.8 41.2 L105.7 36.0 L113.6 32.0 L120.2 30.7 L125.4 27.6 L133.3 26.0 L142.5 25.5 L146.4 26.0 L149.0 29.4 L156.9 32.8 L164.8 37.3 L170.0 41.2 L176.6 45.2 L179.2 49.1 L183.1 50.4 L189.7 49.1 L194.9 47.0 L200.2 46.0 L208.0 44.4 L215.9 44.4 L222.5 45.2 L226.4 47.8 L228.5 51.7 L227.7 57.0 L223.8 63.5 L219.8 68.8 L213.3 74.0 L208.0 76.6 L206.7 80.6 L209.3 83.7 L208.0 87.1 L211.2 91.1 L213.3 95.0 L211.2 98.9 L206.7 101.0 L200.2 102.9 L196.2 105.5 L197.5 109.4 L201.5 113.4 L205.4 117.3 L209.3 121.2 L213.3 125.2 L218.5 128.3 L223.8 131.7 L230.3 135.1 L236.9 138.3 L241.6 140.4 L239.5 144.0 L235.6 147.5"/>
<path d="M101.8 41.2 L103.1 44.4 L108.4 46.5 L114.9 49.1 L120.2 53.0 L125.4 55.7 L122.8 59.6 L116.2 63.5 L114.9 67.5 L116.2 72.7 L117.5 80.6 L118.9 87.1 L122.8 92.4 L129.3 96.3 L133.3 100.2 L141.1 102.9 L146.4 105.5 L151.6 104.2 L154.3 102.9 L151.6 106.8 L146.4 109.4 L141.1 111.5 L137.2 114.1 L134.6 118.6 L133.3 125.2 L129.3 130.4"/>
<path d="M154.3 102.9 L156.9 106.8 L159.5 110.7 L162.1 116.0 L164.8 119.9 L168.7 123.9 L171.3 127.8 L175.2 131.7 L180.5 134.3 L185.7 138.3 L191.0 140.9 L194.9 143.5 L198.9 146.1 L202.8 148.8"/>
<path d="M130.2 130.0 L126.2 135.2 L123.6 139.2 L121.0 143.1 L115.7 147.0 L111.8 151.0 L107.9 154.1 L102.6 157.5 L98.7 161.5 L93.4 165.4 L90.8 169.3 L86.9 172.0 L80.3 174.6 L72.5 175.1 L65.9 175.9 L60.7 178.5 L56.7 182.5 L52.8 187.7 L50.2 193.0 L51.5 196.9 L55.4 199.5 L56.7 203.4 L59.3 208.7 L64.6 212.6 L69.8 215.2 L72.5 219.2 L73.8 224.4 L75.1 229.7 L72.5 233.6 L68.5 234.9 L59.3 236.2 L48.9 237.0 L39.7 237.5 L34.4 239.6 L30.5 241.5 L31.8 246.7 L34.4 251.2 L39.7 255.4 L46.2 258.5 L54.1 260.4 L62.0 260.6 L67.2 259.0 L72.5 258.0"/>
<path d="M123.6 139.2 L127.5 143.1 L132.8 145.7 L134.1 151.0 L135.4 153.1"/>
<path d="M31.8 246.6 L34.4 251.8 L39.7 255.7 L46.2 258.4 L54.1 258.9 L60.7 258.4 L65.9 257.0 L63.3 261.0 L56.7 263.6 L50.2 264.9 L44.9 266.2 L42.3 270.2 L43.6 275.4 L47.5 279.3 L52.8 284.6 L59.3 289.8 L65.9 293.8 L72.5 295.6 L80.3 294.6 L86.9 291.9 L92.1 288.5 L96.1 285.1 L97.4 279.3 L96.1 274.1 L98.7 270.2 L101.3 272.8 L100.0 278.0 L102.6 282.0 L101.3 287.2 L103.9 292.5 L105.2 299.0 L104.5 305.6 L103.4 312.1 L102.6 318.7 L103.4 326.6 L105.2 334.4 L107.9 342.3 L110.5 350.2 L113.1 358.0 L115.0 365.9 L115.7 370.4"/>
<path d="M143.3 240.0 L139.3 245.2 L135.4 250.5 L131.5 255.7 L132.8 259.7 L127.5 263.6 L124.9 268.9 L126.2 274.1 L122.3 279.3 L123.6 283.3 L118.4 287.2 L119.7 292.5 L115.7 296.4 L113.1 301.6 L109.2 304.3 L105.2 303.0"/>
<path d="M114.9 370.0 L117.5 376.6 L121.5 384.4 L125.4 392.3 L129.3 400.2 L133.3 409.3 L137.2 418.5 L141.1 427.7 L146.4 436.9 L151.6 447.4 L155.6 456.6 L158.7 465.7 L162.1 474.9 L166.1 484.1 L170.0 492.0 L173.9 498.5 L179.2 502.5 L183.1 503.8 L188.4 502.5 L193.6 498.5 L197.5 493.3 L201.5 488.0 L204.1 482.8 L206.7 477.5 L210.7 473.6 L215.9 471.0 L221.1 468.4 L222.5 461.8 L221.1 453.9 L219.8 446.1 L221.1 438.2 L224.3 430.3 L226.4 421.1 L226.9 412.0 L226.4 401.5 L225.1 392.3 L226.4 384.4 L230.3 380.5 L235.6 377.9 L240.8 375.2 L243.4 370.0"/>
<path d="M204.1 482.8 L208.0 484.9 L212.0 485.4 L214.6 488.0"/>
<path d="M226.2 385.1 L228.9 380.6 L234.1 378.5 L240.7 377.2 L243.3 373.3 L248.5 369.3 L255.1 366.7 L260.3 364.1 L261.6 358.9 L265.6 354.9 L270.8 351.0 L276.1 348.4 L281.3 344.4 L287.9 340.5 L293.1 336.6 L298.4 331.3 L302.3 327.4 L304.9 323.4 L308.9 319.5 L312.8 316.9 L318.0 314.3 L323.3 311.6 L327.2 309.0 L331.1 305.1 L335.1 301.1 L339.0 297.2 L340.3 294.6 L337.7 292.0 L339.0 288.0 L343.0 284.1 L346.9 281.5 L352.1 278.9 L357.4 277.5"/>
<path d="M223.6 328.7 L228.9 330.0 L234.1 332.6 L238.0 337.9 L242.0 341.8 L248.5 343.1 L253.8 340.5 L259.0 339.2 L263.0 335.2 L265.6 331.3 L269.5 333.9 L273.4 331.3 L277.4 327.4 L281.3 324.8 L285.2 322.1 L289.2 326.1 L294.4 324.8 L299.7 323.4 L303.6 326.1"/>
<path d="M290.5 250.0 L291.8 255.2 L295.7 259.2 L291.8 263.1 L290.5 267.0 L297.0 268.4 L304.9 267.8 L308.9 271.0 L315.4 273.6 L322.0 274.9"/>
<path d="M240.5 139.2 L237.9 143.1 L235.2 148.4 L232.6 154.9 L231.3 160.2 L235.2 164.1 L239.2 169.3 L244.4 173.3 L249.7 175.9 L256.2 178.5 L261.5 181.1 L266.7 183.8 L272.0 186.4 L278.5 185.1 L285.1 183.8 L291.6 185.1 L296.9 185.1 L300.8 189.0 L304.8 193.0 L310.0 194.3 L315.2 195.6 L319.2 198.7 L325.7 200.3 L333.6 201.3 L340.2 200.8 L345.4 202.9 L352.0 203.4 L357.2 204.8 L359.8 200.8 L358.5 195.6 L357.2 189.0 L358.5 182.5 L359.8 177.2 L363.8 174.6 L369.0 174.1 L373.0 175.9 L373.0 181.1 L371.6 186.4 L371.6 193.0 L367.7 195.6 L363.8 196.9 L362.5 199.5 L366.4 202.1 L373.0 203.4 L379.5 204.8 L384.8 203.4 L390.0 202.1"/>
<path d="M357.2 204.8 L362.5 207.4 L366.4 210.0 L369.0 215.2 L373.0 220.5 L367.7 221.8 L363.8 220.5"/>
<path d="M366.4 234.9 L369.0 242.8 L371.6 250.7 L373.0 258.5 L370.3 265.1"/>
<path d="M244.4 224.4 L249.7 225.7 L254.9 228.4 L260.2 231.0 L265.4 232.3 L269.3 233.6 L273.3 238.9 L278.5 241.5 L283.8 242.8 L286.4 248.0 L290.3 250.7 L291.6 255.9 L294.3 259.8 L298.2 261.1 L303.4 262.5"/>
<path d="M373.1 193.2 L379.7 194.3 L386.2 193.2 L394.1 192.7 L403.3 193.2 L412.5 193.8 L420.3 193.2 L416.4 184.6 L415.1 179.3 L421.6 180.7 L426.9 182.0 L429.5 179.3 L434.8 175.4 L438.7 172.8 L443.9 167.5 L450.5 164.9 L457.0 161.0 L461.0 157.0 L466.2 153.6 L472.8 155.7 L479.3 157.0 L485.9 154.4 L491.1 151.8 L495.1 155.7 L494.3 161.0 L497.7 164.9 L503.0 166.2 L509.5 168.9 L512.1 174.1 L509.5 179.3 L505.6 182.0 L506.9 187.2 L508.2 190.4 L503.0 188.5 L499.0 187.2 L496.4 191.1 L492.5 192.5 L488.5 196.4 L484.6 199.0 L480.7 201.6 L476.7 206.9 L472.8 210.8 L470.2 216.1 L467.5 220.0 L466.2 225.2 L464.9 231.8 L463.6 237.0 L461.0 241.0 L457.0 243.6 L453.1 244.9 L449.2 246.2 L446.6 250.2 L445.2 255.4 L443.9 259.3 L441.3 263.3 L440.0 268.5 L438.7 275.1"/>
<path d="M420.3 193.2 L428.2 191.7 L438.7 189.3 L449.2 187.2 L457.0 184.6 L464.9 182.0 L472.8 179.3 L480.7 177.2 L488.5 176.2 L489.8 179.3 L485.9 184.6 L482.0 188.5 L478.0 191.1 L475.4 195.1"/>
<path d="M373.1 196.4 L371.8 203.0 L375.7 206.9 L381.0 209.5 L386.2 210.8 L390.2 214.8 L392.8 218.7 L399.3 220.0 L407.2 220.0 L415.1 221.3 L423.0 222.6 L426.9 226.6 L428.7 230.5 L427.7 235.7 L426.1 240.5 L421.6 239.7 L416.4 241.0 L412.5 243.6 L409.8 248.9 L411.1 255.4 L415.1 258.6 L420.3 255.9 L422.4 251.5"/>
<path d="M428.7 230.5 L427.7 244.9 L427.9 258.0 L428.5 265.9 L429.0 275.1"/>
<path d="M136.3 153.1 L139.7 155.2 L146.2 157.9 L151.5 161.8 L156.7 165.7 L159.3 171.0 L158.0 176.2 L162.0 174.9 L167.2 173.6 L171.1 177.5 L176.4 180.2 L179.0 185.4 L183.0 189.3 L184.3 194.6 L189.5 195.9 L192.1 194.6"/>
<path d="M192.1 194.6 L188.2 198.5 L181.6 201.1 L176.4 203.8 L171.1 206.4 L167.2 210.3 L165.9 215.6 L169.8 219.5 L176.4 219.5 L179.0 223.4 L175.1 226.1 L172.5 230.0 L168.5 232.6 L163.3 233.9 L160.7 237.9 L155.4 239.2 L152.8 243.1 L148.9 241.8 L150.2 236.6 L154.1 233.9 L152.8 228.7 L146.2 227.4 L142.3 226.1 L138.4 228.7 L137.0 233.9 L138.4 240.5 L135.7 247.0 L133.1 253.6 L129.2 258.9 L126.6 265.4 L123.9 272.0 L122.6 278.5 L120.0 285.1"/>
<path d="M192.1 194.6 L196.1 198.5 L200.0 201.1 L203.9 206.4 L205.2 213.0 L202.6 216.9 L197.4 218.2 L194.8 222.1 L196.1 227.4 L194.8 232.6 L197.4 236.6 L202.6 236.6 L205.2 232.6 L203.9 227.4 L201.3 223.4 L203.9 219.5 L209.2 218.2 L213.1 220.8 L218.4 219.5 L223.6 218.7 L228.9 220.8 L234.1 222.1 L239.3 223.4 L244.6 224.8 L249.8 226.1 L253.8 227.4 L257.7 230.0 L263.0 231.3 L266.9 232.6"/>
<path d="M202.6 150.0 L206.6 153.9 L211.8 157.9 L218.4 161.8 L223.6 164.4 L224.9 160.5 L227.5 156.6"/>
<path d="M119.7 380.2 L124.9 374.9 L128.9 371.0 L132.8 367.0 L134.1 363.1 L139.3 360.5 L144.6 357.9 L148.5 353.9 L152.5 351.3 L156.4 352.6 L160.3 348.7 L164.3 346.1 L169.5 342.1 L174.8 338.7 L178.7 335.6 L183.9 333.0 L187.9 329.0 L190.5 325.1 L191.8 321.1 L193.1 317.2 L195.7 313.3 L201.0 312.0 L206.2 314.6 L211.5 315.9 L216.7 314.6 L222.0 317.2 L223.3 322.5 L224.6 327.7"/><circle cx="93.9" cy="447.4" r="0.8" fill="#222" stroke="none"/><circle cx="103.1" cy="446.1" r="0.8" fill="#222" stroke="none"/><circle cx="108.4" cy="448.7" r="0.8" fill="#222" stroke="none"/><circle cx="95.2" cy="453.9" r="0.8" fill="#222" stroke="none"/><circle cx="92.6" cy="457.9" r="0.8" fill="#222" stroke="none"/><circle cx="101.8" cy="460.5" r="0.8" fill="#222" stroke="none"/><circle cx="104.4" cy="453.9" r="0.8" fill="#222" stroke="none"/><circle cx="125.4" cy="452.6" r="0.8" fill="#222" stroke="none"/><circle cx="118.9" cy="460.5" r="0.8" fill="#222" stroke="none"/><circle cx="95.2" cy="472.3" r="0.8" fill="#222" stroke="none"/><circle cx="117.5" cy="472.3" r="0.8" fill="#222" stroke="none"/><circle cx="108.4" cy="501.1" r="0.8" fill="#222" stroke="none"/><circle cx="100.5" cy="464.4" r="0.8" fill="#222" stroke="none"/><path d="M97.6 268.6 L96.3 271 L97 273.5 L95.2 276.2 L96.4 279 L95.4 282 L96.2 284.5 M97.4 270.8 L101 270.5 L104.6 271" stroke-width="1.9"/>
<path d="M438.3 412.5 L440 414.5 L439.5 418.5 L438.2 422 L438.8 425.5 L437.5 429 L438.5 432.5 L437.8 436 L440 439 L439.5 442.5 L438 445 M438.3 412.5 L436.8 415.5 L437 419 L435.2 422.5 L435.8 426.5 L434.8 430 L436 433.5 L435.5 437.5 L436.5 441 L435.5 444.5" stroke-width="1.7"/>
<ellipse cx="431" cy="462" rx="1.8" ry="2.6" stroke-width="1.2"/>
<g fill="#222" stroke="none"><circle cx="435.3" cy="487.5" r="1.3"/><circle cx="441" cy="499.5" r="1.2"/><circle cx="446" cy="506" r="2.2"/><circle cx="449" cy="498" r="0.9"/><circle cx="460" cy="416.5" r="0.8"/><circle cx="453.3" cy="436" r="0.9"/><circle cx="426.5" cy="447.5" r="0.9"/></g>
</g>
<g fill="none" stroke="#0a0a0a" stroke-width="2.75"><circle cx="182.7" cy="163.7" r="16.1"/><circle cx="216.3" cy="182.0" r="15.9"/><circle cx="259.8" cy="226" r="15.85"/><circle cx="312.5" cy="224.8" r="15.95"/><ellipse cx="345" cy="253.4" rx="24.35" ry="25.45"/><circle cx="259.2" cy="268.2" r="15.7"/><circle cx="312.6" cy="294.8" r="15.85"/><circle cx="97.4" cy="268.7" r="15.9"/><circle cx="112.1" cy="321.0" r="14.3"/><circle cx="209.0" cy="319.0" r="15.9"/></g>
<rect x="9" y="10" width="513.5" height="505" fill="none" stroke="#161616" stroke-width="1.3"/>
<g><rect x="530.3" y="47.8" width="23.6" height="46.3" fill="#ff6ee6"/><rect x="530.3" y="93.8" width="23.6" height="46.3" fill="#a01428"/><rect x="530.3" y="139.8" width="23.6" height="46.3" fill="#ff0a0a"/><rect x="530.3" y="185.7" width="23.6" height="46.3" fill="#ff7a0a"/><rect x="530.3" y="231.7" width="23.6" height="46.3" fill="#ffe600"/><rect x="530.3" y="277.7" width="23.6" height="46.3" fill="#14b414"/><rect x="530.3" y="323.7" width="23.6" height="46.3" fill="#14f0b4"/><rect x="530.3" y="369.7" width="23.6" height="46.3" fill="#1432f0"/><rect x="530.3" y="415.6" width="23.6" height="46.3" fill="#5a32f0"/><rect x="530.3" y="461.6" width="23.6" height="46.3" fill="#14befa"/></g>
<g font-size="17.6"><text x="561" y="78">18</text><text x="561" y="124">16</text><text x="561" y="169.9">14</text><text x="561" y="215.9">12</text><text x="561" y="261.9">10</text><text x="561" y="307.9">8</text><text x="561" y="353.9">6</text><text x="561" y="399.8">4</text><text x="561" y="445.8">2</text><text x="561" y="491.8">0</text></g>
<text x="326.5" y="40.4" font-size="21" textLength="170.8" lengthAdjust="spacingAndGlyphs">Sulphur Dioxide</text>
<text x="523.8" y="37.8" font-size="19" textLength="84.6" lengthAdjust="spacingAndGlyphs">(mg/m²)</text>
</svg>
</body></html>
